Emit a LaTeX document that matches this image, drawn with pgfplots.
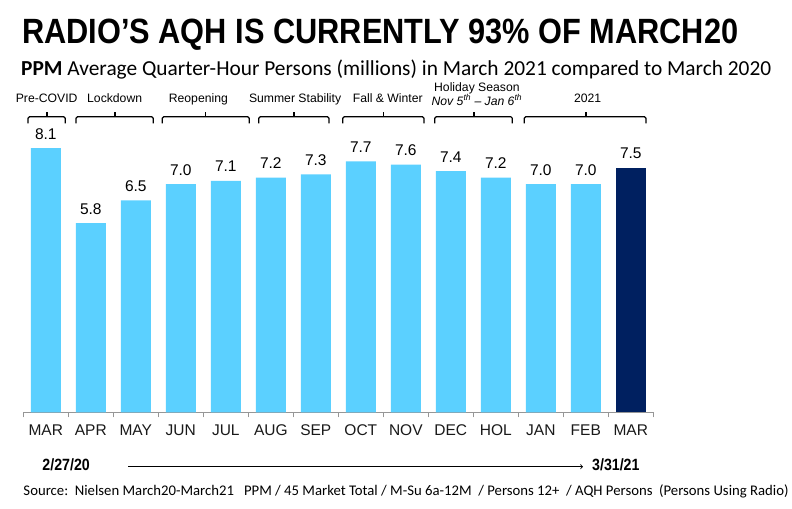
\documentclass[border=0pt]{standalone}
\usepackage{fontspec}
\setmainfont{Liberation Sans}
\newfontfamily\carlito{Carlito}
\usepackage{pgfplots}
\pgfplotsset{compat=1.18}
\usepackage{graphicx}

\definecolor{barblue}{RGB}{91,208,255}
\definecolor{barnavy}{RGB}{0,32,96}
\definecolor{axisgray}{RGB}{150,150,150}

% bracket over a group of bars: x from, x to, x of the middle tick
\newcommand{\grp}[3]{%
  \draw[line width=1.2bp, rounded corners=1.5pt]
    (#1,8.865) -- (#1,9.067) -- (#2,9.067) -- (#2,8.865);
  \draw[line width=1.2bp] (#3,9.067) -- (#3,9.221);
}

\begin{document}
\begin{tikzpicture}
\useasboundingbox (0,0) rectangle (792bp,509bp);

% title and subtitle
\node[anchor=base west, inner sep=0] at (22bp,465bp)
  {\resizebox{716bp}{24.5bp}{\bfseries RADIO’S AQH IS CURRENTLY 93\% OF MARCH20}};
\node[anchor=base west, inner sep=0] at (21bp,433bp)
  {\resizebox{750bp}{!}{\carlito\fontsize{20bp}{24bp}\selectfont
   \textbf{PPM} Average Quarter-Hour Persons (millions) in March 2021 compared to March 2020}};

\begin{axis}[
  at={(23.3bp,96.7bp)}, anchor=south west,
  scale only axis, width=630bp, height=293.4bp,
  xmin=-0.5, xmax=13.5, ymin=0, ymax=9,
  axis x line*=bottom, axis y line=none,
  x axis line style={axisgray, line width=1pt},
  xtick={0,...,13},
  xticklabels={MAR,APR,MAY,JUN,JUL,AUG,SEP,OCT,NOV,DEC,HOL,JAN,FEB,MAR},
  major tick length=0pt,
  minor xtick={-0.5,0.5,...,13.5},
  minor tick length=5bp,
  tick align=outside,
  minor tick style={axisgray, line width=1pt},
  xticklabel style={font=\fontsize{15.5bp}{18bp}\selectfont, text=black!90,
    anchor=base, yshift=-23.4bp, inner sep=0},
  ybar, bar width=30bp,
  nodes near coords,
  nodes near coords style={font=\fontsize{15.5bp}{18bp}\selectfont,
    anchor=base, yshift=9bp, inner sep=0, text=black},
  /pgf/number format/.cd, fixed, precision=1, fixed zerofill, assume math mode=true,
  /pgfplots/.cd,
  clip=false,
]
\addplot[fill=barblue, draw=none, bar shift=0pt] coordinates {
  (0,8.1) (1,5.8) (2,6.5) (3,7.0) (4,7.1) (5,7.2) (6,7.3)
  (7,7.7) (8,7.6) (9,7.4) (10,7.2) (11,7.0) (12,7.0)};
\addplot[fill=barnavy, draw=none, bar shift=0pt] coordinates {(13,7.5)};

\grp{-0.396}{0.433}{0.027}
\grp{0.671}{2.389}{1.538}
\grp{2.589}{4.522}{3.553}
\grp{4.731}{6.293}{5.516}
\grp{6.598}{8.404}{7.5}
\grp{8.642}{10.367}{9.516}
\grp{10.633}{13.338}{12.004}

\begin{scope}[every node/.style={anchor=base, inner sep=0,
    font=\fontsize{12.2bp}{14bp}\selectfont}]
\node at (0.02,9.503) {Pre-COVID};
\node at (1.53,9.503) {Lockdown};
\node at (3.39,9.503) {Reopening};
\node at (5.54,9.503) {Summer Stability};
\node at (7.6,9.503) {Fall \& Winter};
\node at (9.58,9.856) {Holiday Season};
\node at (9.58,9.426) {\itshape Nov 5\textsuperscript{th} – Jan 6\textsuperscript{th}};
\node at (12.04,9.503) {2021};
\end{scope}
\end{axis}

% date range and arrow
\node[anchor=base west, inner sep=0] at (42.3bp,38.3bp)
  {\scalebox{0.87}[1]{\fontsize{16.3bp}{19bp}\selectfont\bfseries 2/27/20}};
\draw[->, line width=0.9pt] (128bp,42.3bp) -- (583bp,42.3bp);
\node[anchor=base west, inner sep=0] at (592bp,38.3bp)
  {\scalebox{0.87}[1]{\fontsize{16.3bp}{19bp}\selectfont\bfseries 3/31/21}};

% source line
\node[anchor=base west, inner sep=0] at (23.3bp,14bp)
  {\resizebox{765bp}{!}{\carlito\fontsize{14bp}{16bp}\selectfont
   Source:\ \ Nielsen March20-March21\ \ \ PPM / 45 Market Total / M-Su 6a-12M\ \ / Persons 12+\ \ / AQH Persons\ \ (Persons Using Radio)}};
\end{tikzpicture}
\end{document}
